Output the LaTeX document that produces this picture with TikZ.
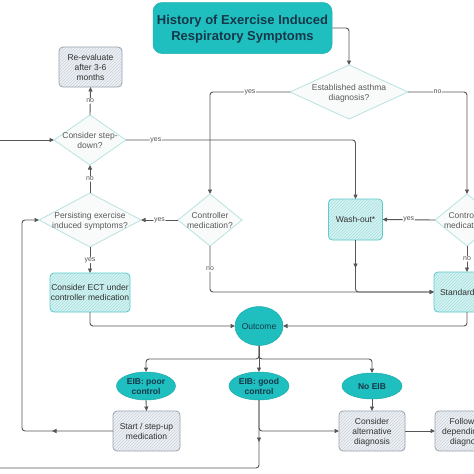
\documentclass[tikz,border=0pt]{standalone}
\usepackage{fontspec}
\setmainfont{Liberation Sans}
\usetikzlibrary{shapes.geometric,arrows.meta,patterns,decorations.markings}
\definecolor{tealf}{HTML}{1FBFBF}
\definecolor{tealtx}{HTML}{16384A}
\definecolor{diab}{HTML}{B8E2E2}
\definecolor{diaf}{HTML}{F9FAFA}
\definecolor{diat}{HTML}{5A5A5A}
\definecolor{tboxf}{HTML}{D6F2F2}
\definecolor{tboxb}{HTML}{5FCACA}
\definecolor{tboxh}{HTML}{A6E0E0}
\definecolor{gboxf}{HTML}{EEF1F5}
\definecolor{gboxb}{HTML}{9AA4AE}
\definecolor{gboxh}{HTML}{CBD2DB}
\definecolor{boxtx}{HTML}{333333}
\definecolor{linec}{HTML}{555555}
\definecolor{labc}{HTML}{555555}
\newcommand\mytxt[2][3pt]{\smash{\makebox[0pt]{\raisebox{-#1}{\begin{tabular}{@{}c@{}}#2\end{tabular}}}}}
\begin{document}
\begin{tikzpicture}[x=1pt,y=-1pt,
  line/.style={draw=linec, line width=0.9pt, rounded corners=3pt},
  arr/.style={line, -{Triangle[length=4.5pt,width=4pt]}},
  midarr/.style={postaction={decorate,decoration={markings,mark=at position #1 with {\arrow{Triangle[length=4.5pt,width=4pt]}}}}},
  base/.style={inner sep=0pt, outer sep=0pt, font=\fontsize{8.5}{10}\selectfont},
  dia/.style={base, diamond, draw=diab, fill=diaf, line width=0.8pt, text=diat},
  tbox/.style={base, rectangle, rounded corners=4pt, preaction={fill=tboxf}, pattern=north east lines, pattern color=tboxh, draw=tboxb, line width=0.8pt, text=boxtx},
  gbox/.style={base, rectangle, rounded corners=4pt, preaction={fill=gboxf}, pattern=north east lines, pattern color=gboxh, draw=gboxb, line width=0.8pt, text=boxtx},
  ell/.style={base, ellipse, fill=tealf, draw=tealf!90!black, line width=0.5pt, text=tealtx},
  lbl/.style={font=\fontsize{7}{8}\selectfont, text=labc, fill=white, inner sep=0.6pt},
  ttl/.style={rectangle, rounded corners=9pt, fill=tealf, draw=tealf!92!black, line width=0.5pt, inner sep=0pt, text=tealtx, font=\fontsize{13}{16}\selectfont\bfseries}
]
\useasboundingbox (0,0) rectangle (474,474);
\clip (0,0) rectangle (474,474);
\fill[white] (0,0) rectangle (474,474);

% nodes
\node[ttl, minimum width=179pt, minimum height=51pt] (T) at (242.5,28) {\mytxt[4.6pt]{History of Exercise Induced\\Respiratory Symptoms}};
\node[dia, minimum width=118pt, minimum height=54pt] (E) at (349,92) {\mytxt{Established asthma\\diagnosis?}};
\node[gbox, minimum width=63pt, minimum height=40pt] (R) at (90.5,67) {\mytxt{Re-evaluate\\after 3-6\\months}};
\node[dia, minimum width=72pt, minimum height=50pt] (St) at (90,140) {\mytxt{Consider step-\\down?}};
\node[dia, minimum width=102pt, minimum height=54pt] (P) at (90,220) {\mytxt{Persisting exercise\\induced symptoms?}};
\node[dia, minimum width=64pt, minimum height=52pt] (C1) at (210,220) {\mytxt{Controller\\medication?}};
\node[dia, minimum width=64pt, minimum height=52pt] (C2) at (467,220) {\mytxt{Controller\\medication?}};
\node[tbox, minimum width=54pt, minimum height=41pt] (W) at (355.5,219.5) {\mytxt{Wash-out*}};
\node[tbox, minimum width=80pt, minimum height=39pt] (ECT) at (90,292.5) {\mytxt{Consider ECT under\\controller medication}};
\node[tbox, minimum width=66pt, minimum height=40pt] (S) at (467,292) {\mytxt{Standard ECT}};
\node[ell, minimum width=48pt, minimum height=39pt] (O) at (259,326) {\mytxt{Outcome}};
\node[ell, minimum width=59pt, minimum height=28pt, font=\fontsize{8.5}{10}\selectfont\bfseries] (Pc) at (146,386) {\mytxt{EIB: poor\\control}};
\node[ell, minimum width=60pt, minimum height=28pt, font=\fontsize{8.5}{10}\selectfont\bfseries] (Gc) at (259,386) {\mytxt{EIB: good\\control}};
\node[ell, minimum width=60pt, minimum height=26pt, font=\fontsize{8.5}{10}\selectfont\bfseries] (Ne) at (372,386) {\mytxt{No EIB}};
\node[gbox, minimum width=67pt, minimum height=40pt] (Sm) at (146.5,431) {\mytxt{Start / step-up\\medication}};
\node[gbox, minimum width=66pt, minimum height=40pt] (A) at (372,431) {\mytxt{Consider\\alternative\\diagnosis}};
\node[gbox, minimum width=66pt, minimum height=40pt] (F) at (468,431) {\mytxt{Follow-up\\depending on\\diagnosis}};

\coordinate (inL) at (-5,140);
\coordinate (J) at (259,359);
\coordinate (Lc) at (22,220);
\coordinate (outL) at (-5,468);

% connectors
\draw[arr] (T.east) -| (E.north);
\draw[arr] (E.west) -| node[lbl,pos=0.25]{yes} (C1.north);
\draw[arr] (E.east) -| node[lbl,pos=0.25]{no} (C2.north);
\draw[arr] (St.north) -- node[lbl]{no} (R.south);
\draw[arr] (inL) -- (St.west);
\draw[arr] (St.east) -| node[lbl,pos=0.065]{yes} (W.north);
\draw[arr] (P.north) -- node[lbl]{no} (St.south);
\draw[arr] (C1.west) -- node[lbl]{yes} (P.east);
\draw[arr] (C2.west) -- node[lbl]{yes} (W.east);
\draw[arr] (C2.south) -- node[lbl]{no} (S.north);
\draw[arr] (C1.south) -- node[lbl]{no} (C1.south |- S.west) -- (S.west);
\draw[arr, midarr=28pt] (W.south) -- (W.south |- S.west) -- (S.west);
\draw[arr] (P.south) -- node[lbl]{yes} (ECT.north);
\draw[arr] (ECT.south) |- (O.west);
\draw[arr] (S.south) |- (O.east);
\draw[arr] (O.south) -- (J) -| (Pc.north);
\draw[arr] (O.south) -- (Gc.north);
\draw[arr] (O.south) -- (J) -| (Ne.north);
\draw[arr] (Pc.south) -- (Sm.north);
\draw[arr] (Ne.south) -- (A.north);
\draw[arr] (A.east) -- (F.west);
\draw[arr, midarr=61pt] (Sm.west) -| (Lc) -- (P.west);
\draw[arr] (Gc.south) -- (Gc.south |- A.west) -- (A.west);
\draw[line, midarr=42pt] (Gc.south) |- (outL);
\end{tikzpicture}
\end{document}
